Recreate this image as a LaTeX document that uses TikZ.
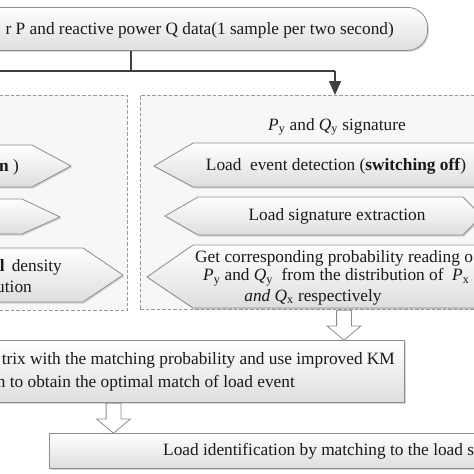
\documentclass[tikz,border=0pt]{standalone}
\usepackage{fontspec}
\setmainfont{Liberation Serif}
\usetikzlibrary{shadows,shapes.arrows,arrows.meta,calc}
\tikzset{
  txt/.style={inner sep=0pt, font=\fontsize{17.3}{20}\selectfont, text=black!90},
  shbox/.style={draw=black!45, line width=0.8pt, top color=white, bottom color=black!13,
    drop shadow={shadow xshift=1.2pt, shadow yshift=-1.5pt, opacity=0.3}},
  groupbox/.style={draw=black!40, dash pattern=on 3.5pt off 2pt, line width=0.8pt, fill=black!3, inner sep=0pt},
  conn/.style={draw=black!75, line width=1.6pt},
  hollow/.style={single arrow, draw=black!45, line width=0.8pt, fill=white, inner xsep=0pt, inner ysep=7pt,
    minimum height=30pt, single arrow head extend=9.5pt, single arrow tip angle=100, rotate=-90, anchor=tail}
}
\begin{document}
\begin{tikzpicture}[x=1pt, y=-1pt]
\useasboundingbox (0,0) rectangle (474,474);
% source box
\node[shbox, rounded corners=20pt, minimum width=470pt, minimum height=43pt, anchor=north east, inner sep=0pt] (src) at (428,7) {};
\node[txt, anchor=east] (srct) at (394,30) {r P and reactive power Q data(1 sample per two second)};
% group boxes
\node[groupbox, minimum width=150pt, minimum height=215pt, anchor=north east] (lbox) at (128,95) {};
\node[groupbox, minimum width=360pt, minimum height=214pt, anchor=north west] (rbox) at (140,95) {};
% connectors
\coordinate (j) at (131,71);
\coordinate (jl) at (-5,71);
\coordinate (jr) at (335,71);
\draw[conn] (src.south -| j) -- (j);
\draw[conn] (jl) -- (jr);
\draw[conn, -{Triangle[width=12pt,length=14pt]}] (jr) -- (rbox.north -| jr);
% left hexagons
\path[shbox] (-20,145) -- (32,145) -- (71,166) -- (32,187) -- (-20,187) -- cycle;
\path[shbox] (-20,199) -- (22,199) -- (60,217) -- (22,234) -- (-20,234) -- cycle;
\path[shbox] (-20,248) -- (83,248) -- (123,275) -- (83,302) -- (-20,302) -- cycle;
\node[txt, anchor=east] (l1) at (19,167) {\textbf{n} )};
\node[txt, anchor=east] (l3a) at (62,267) {\textbf{l}\, density};
\node[txt, anchor=east] (l3b) at (32,287) {ution};
% right box content
\node[txt] (sig) at (337,127) {\textit{P}\textsubscript{y} and \textit{Q}\textsubscript{y} signature};
\path[shbox] (154,166) -- (193,143) -- (520,143) -- (540,166) -- (520,187) -- (193,187) -- cycle;
\path[shbox] (165,216) -- (198,197) -- (463,197) -- (482,216) -- (463,235) -- (198,235) -- cycle;
\path[shbox] (147,277) -- (193,245) -- (520,245) -- (550,277) -- (520,308) -- (193,308) -- cycle;
\node[txt] (r1) at (336,166) {Load\ \ event detection (\textbf{switching off})};
\node[txt] (r2) at (337,216) {Load signature extraction};
\node[txt, anchor=west] (r3a) at (195,258) {Get corresponding probability reading o};
\node[txt, anchor=west] (r3b) at (203,277) {\textit{P}\textsubscript{y} and \textit{Q}\textsubscript{y}\ \ from the distribution of\ \ \textit{P}\textsubscript{x}};
\node[txt] (r3c) at (313,297) {\textit{and Q}\textsubscript{x} respectively};
% match box
\node[shbox, minimum width=440pt, minimum height=62pt, anchor=north east, inner sep=0pt] (mbox) at (405,340) {};
\node[txt, anchor=east] (m1) at (395,360) {trix with the matching probability and use improved KM};
\node[txt, anchor=east] (m2) at (295,383) {n to obtain the optimal match of load event};
% final box
\node[shbox, minimum width=480pt, minimum height=35pt, anchor=north west, inner sep=0pt] (fbox) at (49,433) {};
\node[txt, anchor=west] (f1) at (163,451) {Load identification by matching to the load s};
% hollow arrows
\node[hollow] (a1) at ($(rbox.south west)+(204,0)$) {};
\node[hollow] (a2) at ($(mbox.south east)+(-291.5,0)$) {};
\end{tikzpicture}
\end{document}
